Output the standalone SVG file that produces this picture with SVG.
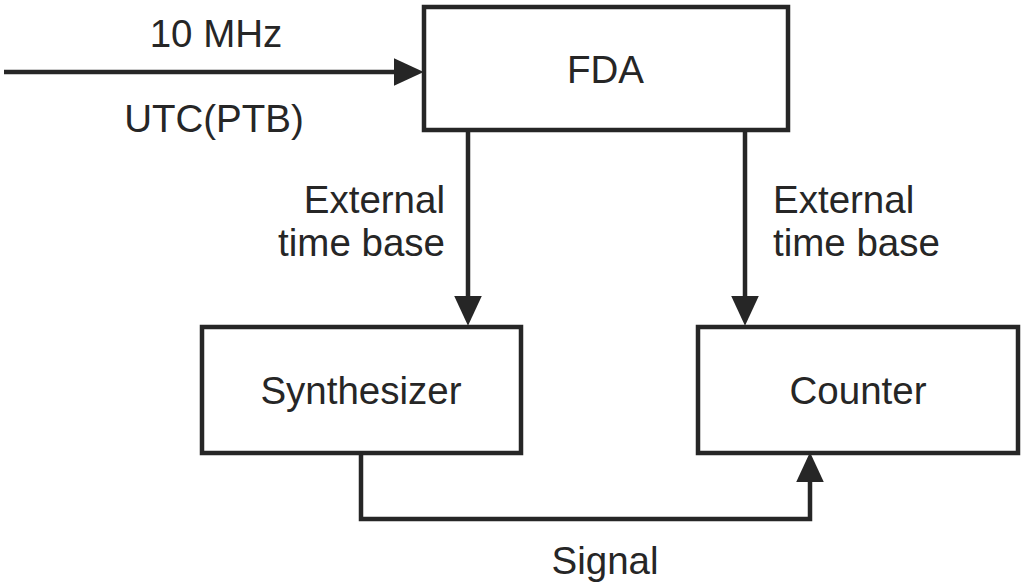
<svg xmlns="http://www.w3.org/2000/svg" width="1025" height="585" viewBox="0 0 1025 585">
<defs>
<style>
.box{fill:#ffffff;stroke:#262626;stroke-width:4.5}
.ln{fill:none;stroke:#262626;stroke-width:4.5}
.t{font-family:"Liberation Sans",Arial,Helvetica,sans-serif;font-size:38.5px;fill:#262626}
</style>
<marker id="ah" markerUnits="userSpaceOnUse" markerWidth="30" markerHeight="28" viewBox="0 0 28 26" refX="18" refY="13" orient="auto">
<path d="M0,0 L28,13 L0,26 z" fill="#262626"/>
</marker>
</defs>
<rect width="1025" height="585" fill="#ffffff"/>
<g id="connectors">
<line class="ln" x1="4" y1="72" x2="413" y2="72" marker-end="url(#ah)"/>
<line class="ln" x1="468" y1="130" x2="468" y2="315" marker-end="url(#ah)"/>
<line class="ln" x1="745" y1="130" x2="745" y2="315" marker-end="url(#ah)"/>
<polyline class="ln" points="361,453 361,519 810,519 810,463" marker-end="url(#ah)"/>
<text class="t" x="216" y="47" text-anchor="middle">10 MHz</text>
<text class="t" x="214" y="132" text-anchor="middle">UTC(PTB)</text>
<text class="t" x="445" y="213" text-anchor="end">External</text>
<text class="t" x="445" y="256" text-anchor="end">time base</text>
<text class="t" x="773" y="213">External</text>
<text class="t" x="773" y="256">time base</text>
<text class="t" x="605" y="574" text-anchor="middle">Signal</text>
</g>
<g id="fda">
<rect class="box" x="424" y="7" width="364" height="123"/>
<text class="t" x="605.5" y="83" text-anchor="middle">FDA</text>
</g>
<g id="synthesizer">
<rect class="box" x="202" y="327" width="319" height="126"/>
<text class="t" x="361" y="404" text-anchor="middle">Synthesizer</text>
</g>
<g id="counter">
<rect class="box" x="698" y="327" width="320" height="126"/>
<text class="t" x="858" y="404" text-anchor="middle">Counter</text>
</g>
</svg>
